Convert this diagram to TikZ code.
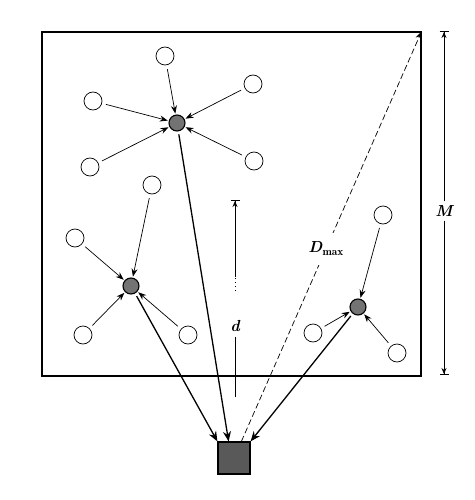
\documentclass[tikz,border=0pt]{standalone}
\usepackage{fontspec}
\usetikzlibrary{arrows.meta}
\begin{document}
\begin{tikzpicture}[x=1pt,y=-1pt,
  field/.style={draw, line width=1.2pt, minimum width=379pt, minimum height=344pt, inner sep=0pt},
  member/.style={circle, draw, fill=white, minimum size=18pt, inner sep=0pt, line width=0.7pt},
  head/.style={circle, draw, line width=1.1pt, fill=black!55, minimum size=16pt, inner sep=0pt},
  sinkbox/.style={draw, line width=1.2pt, fill=black!65, minimum size=32pt, inner sep=0pt},
  link/.style={-{Stealth[length=8pt,width=6pt]}, line width=0.7pt, shorten <=4pt, shorten >=1pt},
  uplink/.style={-{Stealth[length=10pt,width=8pt]}, line width=1.3pt, shorten <=3pt},
  dimtip/.style={-{Stealth[length=6pt,width=5pt]Bar[width=9pt,line width=1pt]}, line width=0.7pt},
  lab/.style={font=\fontsize{16}{18}\selectfont\bfseries\itshape}
]
\useasboundingbox (0,0) rectangle (474,500);
\node[field] (F) at (231.5,204) {};
% heads
\node[head] (h1) at (177,123) {};
\node[head] (h2) at (131,286) {};
\node[head] (h3) at (358,307) {};
% members
\node[member] (a1) at (165,56) {};
\node[member] (a2) at (253,84) {};
\node[member] (a3) at (93,101) {};
\node[member] (a4) at (90,167) {};
\node[member] (a5) at (254,161) {};
\node[member] (b1) at (152,185) {};
\node[member] (b2) at (75,238) {};
\node[member] (b3) at (83,335) {};
\node[member] (b4) at (188,335) {};
\node[member] (c1) at (383,215) {};
\node[member] (c2) at (313,333) {};
\node[member] (c3) at (397,353) {};
% sink
\node[sinkbox] (S) at (234,458) {};
% member links
\foreach \m in {a1,a2,a3,a4,a5} \draw[link] (\m) -- (h1);
\foreach \m in {b1,b2,b3,b4} \draw[link] (\m) -- (h2);
\foreach \m in {c1,c2,c3} \draw[link] (\m) -- (h3);
% head to sink
\draw[uplink] (h1) -- (S.108);
\draw[uplink] (h2) -- (S.north west);
\draw[uplink] (h3) -- (S.north east);
% D max
\draw[-{Stealth[length=8pt,width=6pt]}, line width=0.7pt, dash pattern=on 6pt off 3pt]
  (S.66) -- (F.north east)
  node[pos=0.47, fill=white, inner xsep=1pt, inner ysep=9pt, lab] (Dl) {D$_{\mathbf{max}}$};
% d
\coordinate (dtop) at (235,200);
\coordinate (dsol) at (235,277);
\coordinate (ddot) at (235,291);
\coordinate (dbot) at (235,397);
\node[lab, inner sep=5pt] (dl) at (235,326) {d};
\draw[dimtip] (dsol) -- (dtop);
\draw[line width=0.8pt, dash pattern=on 1pt off 3pt] (ddot) -- (dsol);
\draw[line width=0.8pt] (dl) -- (dbot);
% M
\coordinate (Mt) at (444,31);
\coordinate (Mb) at (444,375);
\node[lab, inner sep=4pt] (Ml) at (444,211) {M};
\draw[dimtip] (Ml) -- (Mt);
\draw[dimtip] (Ml) -- (Mb);
\end{tikzpicture}
\end{document}
